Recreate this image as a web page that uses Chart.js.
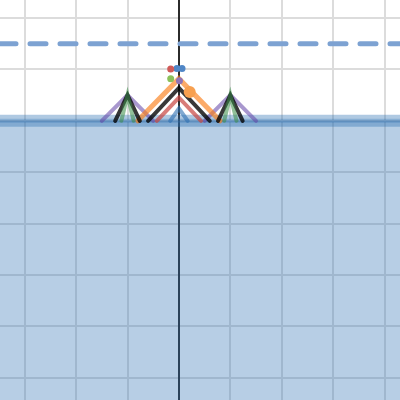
<!DOCTYPE html>
<html>
<head>
<meta charset="utf-8">
<script src="https://cdn.jsdelivr.net/npm/chart.js@4/dist/chart.umd.min.js"></script>
<style>
  html, body { margin: 0; padding: 0; background: #fff; }
  #graph { display: block; width: 400px; height: 400px; }
</style>
</head>
<body>
<canvas id="graph" width="400" height="400"></canvas>
<script>
// view window (graph units, one grid square = 1)
const xRange = [-3.48, 4.30];
const yRange = [-5.43, 2.35];

// triangles, null breaks the line between separate peaks
const purpleX = [-1.5, -1, -0.5, null, 0.5, 1, 1.5];
const purpleY = [0, 0.5, 0, null, 0, 0.5, 0];
const blackX = [-1.24, -1, -0.76, null, -0.6, 0, 0.6, null, 0.76, 1, 1.24];
const blackY = [0, 0.5, 0, null, 0, 0.64, 0, null, 0, 0.5, 0];
const greenX = [-1.12, -1, -0.88, null, 0.88, 1, 1.12];
const greenY = [0, 0.5, 0, null, 0, 0.5, 0];
const orangeX = [-0.8, 0, 0.8];
const orangeY = [0, 0.82, 0];
const redX = [-0.43, 0, 0.43];
const redY = [0, 0.45, 0];
const blueX = [-0.17, 0, 0.17];
const blueY = [0, 0.24, 0];

// horizontal lines
const dashedLevel = 1.5;
const floorLevel = 0;

// loose points
const redDotX = [-0.16], redDotY = [1.01];
const blueDotX = [-0.04, 0.06], blueDotY = [1.02, 1.02];
const greenDotX = [-0.16], greenDotY = [0.82];
const purpleDotX = [0.01], purpleDotY = [0.78];
const orangeDotX = [0.21], orangeDotY = [0.56];

function pts(xs, ys) {
    return xs.map(function (x, i) {
        return { x: x, y: ys[i] };
    });
}

function lineSet(xs, ys, color, width, order) {
    return {
        data: pts(xs, ys),
        showLine: true,
        borderColor: color,
        borderWidth: width,
        pointRadius: 0,
        borderJoinStyle: "miter",
        borderCapStyle: "round",
        fill: false,
        order: order,
    };
}

function dotSet(xs, ys, color, r, order) {
    return {
        data: pts(xs, ys),
        showLine: false,
        backgroundColor: color,
        borderWidth: 0,
        pointRadius: r,
        order: order,
    };
}

function intTicks(scale) {
    const ticks = [];
    for (let v = Math.ceil(scale.min); v <= Math.floor(scale.max); v++) {
        ticks.push({ value: v });
    }
    scale.ticks = ticks;
}

function noSize(scale) {
    if (scale.isHorizontal()) scale.height = 0;
    else scale.width = 0;
}

new Chart(document.getElementById("graph"), {
    type: "scatter",
    data: {
        datasets: [
            // shaded region under y = 0
            {
                data: pts(xRange, [floorLevel, floorLevel]),
                showLine: true,
                borderWidth: 0,
                pointRadius: 0,
                fill: "start",
                backgroundColor: "rgba(45, 112, 179, 0.34)",
                order: 20,
            },
            lineSet(xRange, [floorLevel, floorLevel], "rgba(45, 112, 179, 0.38)", 12, 19),
            lineSet(xRange, [floorLevel, floorLevel], "rgba(45, 112, 179, 0.3)", 4, 18),
            Object.assign(
                lineSet(xRange, [dashedLevel, dashedLevel], "#7da2d2", 5, 17),
                { borderDash: [16, 14] }
            ),
            lineSet(purpleX, purpleY, "rgba(96, 66, 166, 0.55)", 4, 10),
            lineSet(orangeX, orangeY, "rgba(250, 126, 25, 0.65)", 5, 9),
            lineSet(redX, redY, "rgba(199, 68, 64, 0.7)", 4, 8),
            lineSet(blueX, blueY, "rgba(45, 112, 179, 0.6)", 4, 7),
            lineSet(blackX, blackY, "rgba(0, 0, 0, 0.78)", 4, 6),
            lineSet(greenX, greenY, "rgba(56, 140, 70, 0.55)", 4, 5),
            dotSet(redDotX, redDotY, "#d05a58", 3.5, 2),
            dotSet(blueDotX, blueDotY, "#4f86c6", 3.5, 2),
            dotSet(greenDotX, greenDotY, "#8cc05a", 3.5, 2),
            dotSet(purpleDotX, purpleDotY, "#8f74b5", 3.5, 2),
            dotSet(orangeDotX, orangeDotY, "#f7a050", 6, 1),
        ],
    },
    options: {
        responsive: false,
        animation: false,
        devicePixelRatio: 1,
        layout: { padding: 0, autoPadding: false },
        plugins: {
            legend: { display: false },
            tooltip: { enabled: false },
        },
        scales: {
            // y first so the vertical axis line is painted over the horizontal grid
            y: {
                type: "linear",
                min: yRange[0],
                max: yRange[1],
                afterBuildTicks: intTicks,
                afterFit: noSize,
                ticks: { display: false, padding: 0 },
                border: { display: false },
                grid: { color: "#dcdcdc", lineWidth: 2, drawTicks: false },
            },
            x: {
                type: "linear",
                min: xRange[0],
                max: xRange[1],
                afterBuildTicks: intTicks,
                afterFit: noSize,
                ticks: { display: false, padding: 0 },
                border: { display: false },
                grid: {
                    color: function (ctx) {
                        return ctx.tick && ctx.tick.value === 0 ? "#2b2b2b" : "#dcdcdc";
                    },
                    lineWidth: 2,
                    drawTicks: false,
                },
            },
        },
    },
});
</script>
</body>
</html>
